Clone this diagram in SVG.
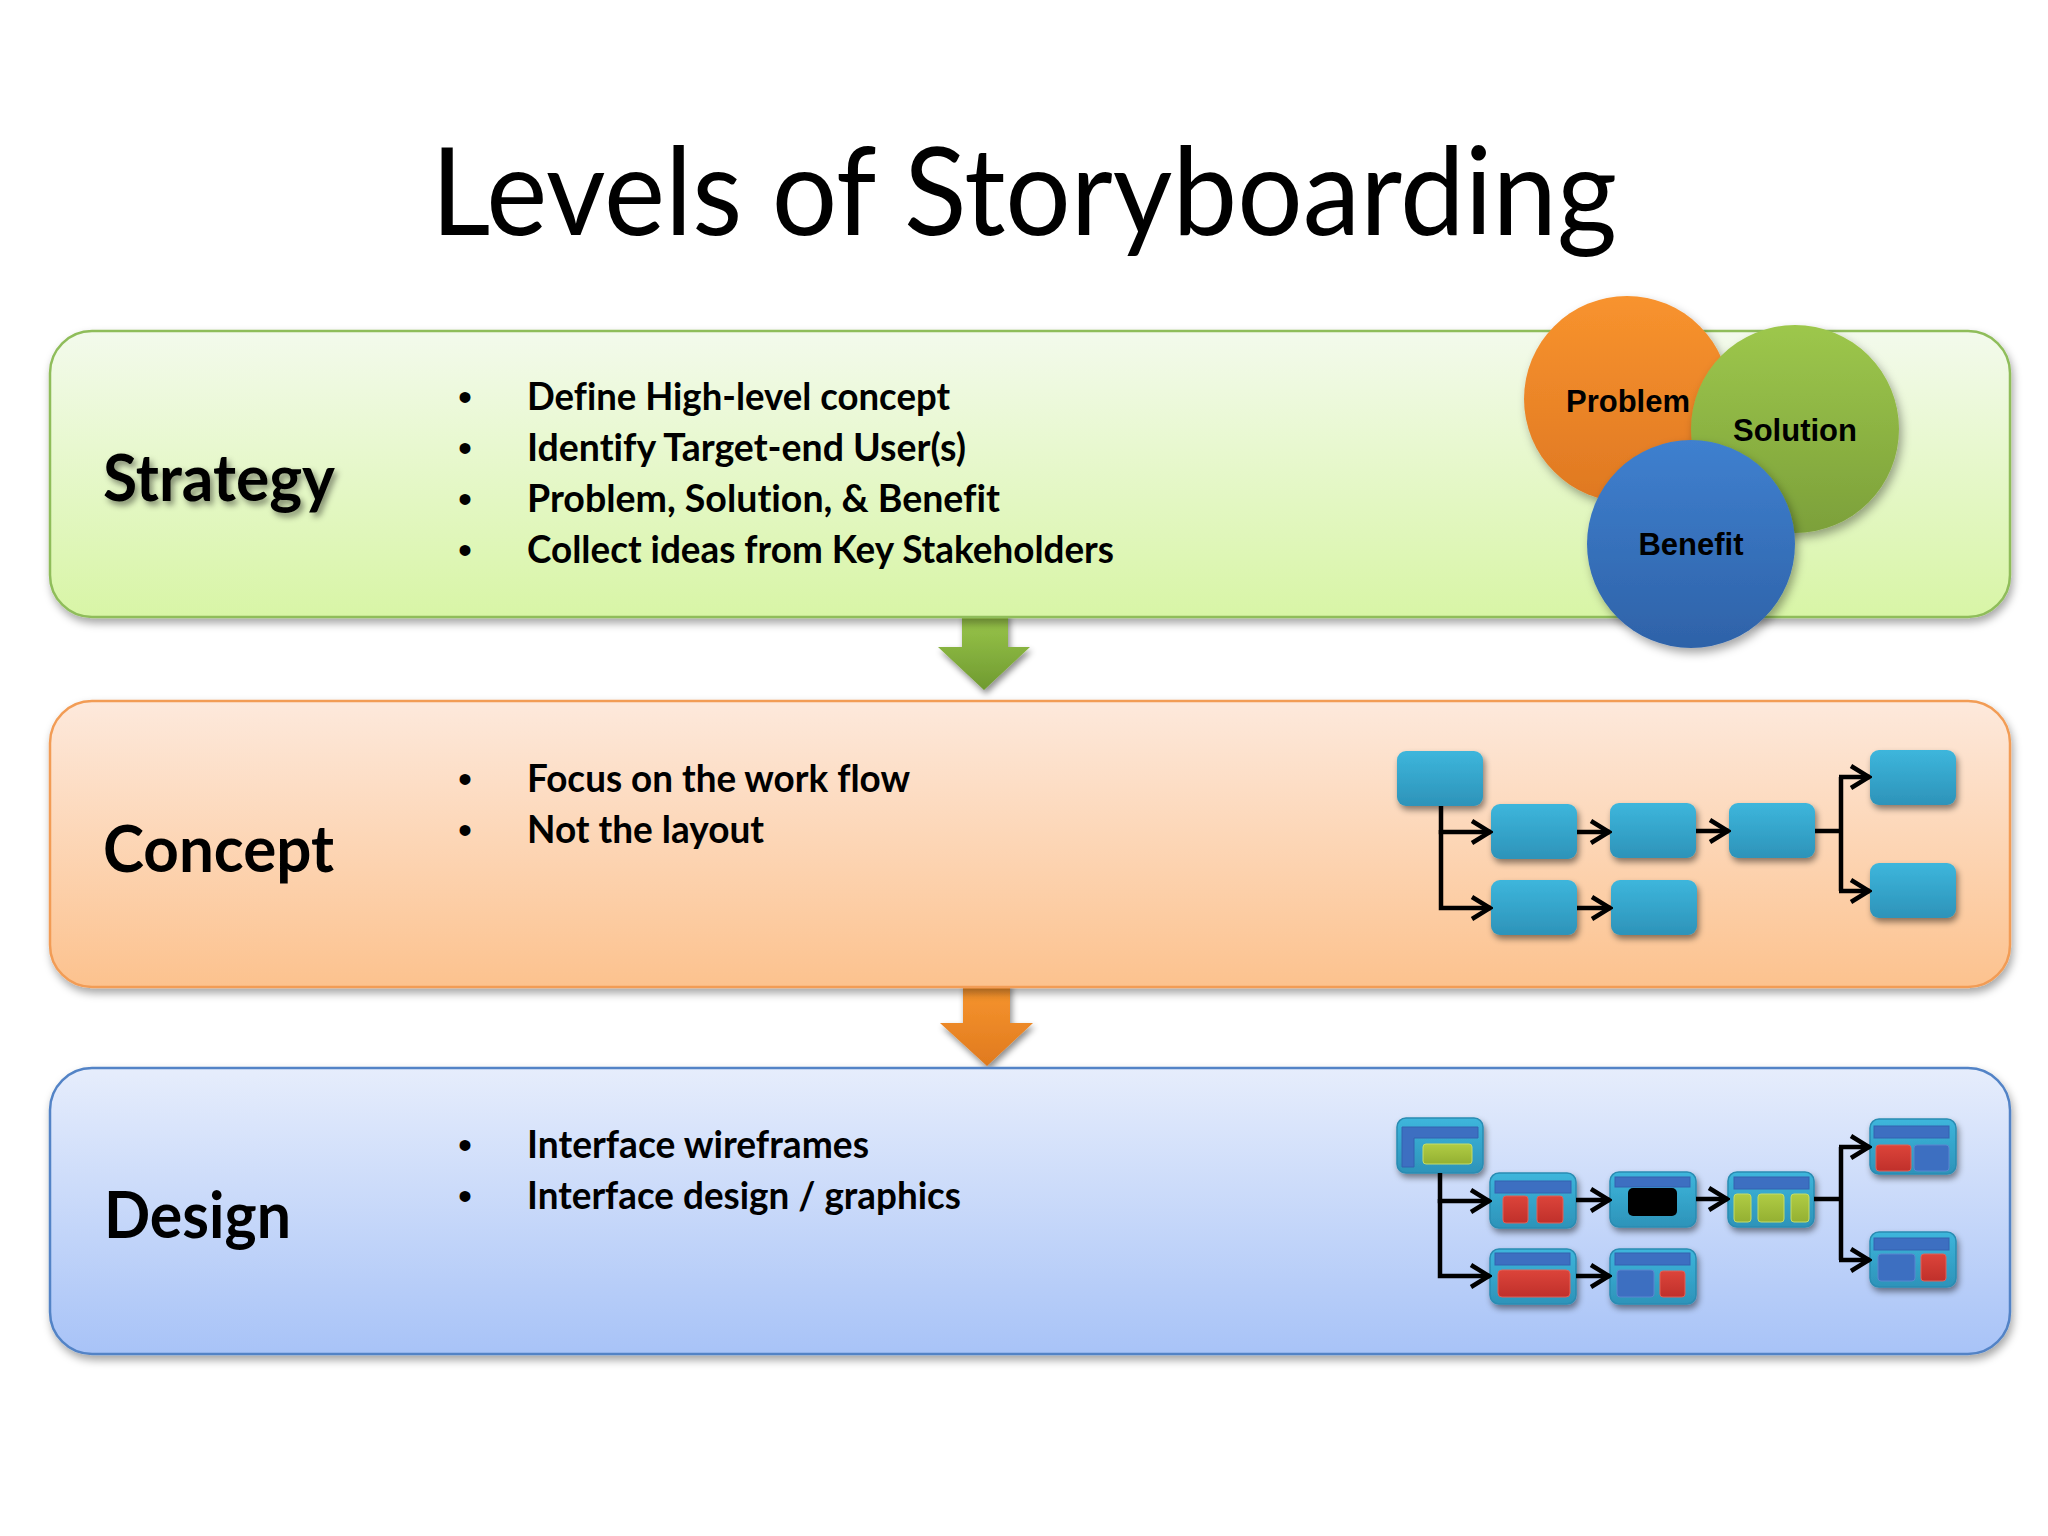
<svg xmlns="http://www.w3.org/2000/svg" width="2048" height="1536" viewBox="0 0 2048 1536">
<defs>
<style>
.title{font-family:Lato,"Open Sans","Liberation Sans",sans-serif;font-size:122px;fill:#000;font-variant-ligatures:none}
.lbl{font-family:Lato,"Open Sans","Liberation Sans",sans-serif;font-weight:bold;font-size:65px;fill:#000;font-variant-ligatures:none}
.bul{font-family:Lato,"Open Sans","Liberation Sans",sans-serif;font-weight:bold;font-size:38px;fill:#000;font-variant-ligatures:none}
.dot{font-family:"Liberation Sans",Arial,sans-serif;font-size:40px;fill:#000}
.ctxt{font-family:"Liberation Sans",Arial,sans-serif;font-weight:bold;font-size:31px;fill:#000;text-anchor:middle}
.conn{fill:none;stroke:#000;stroke-width:4.5;stroke-linejoin:miter}
.cbox{fill:url(#gTeal);filter:url(#fBox)}
.dbox{fill:url(#gTeal);stroke:#2a8cb2;stroke-width:1.5;filter:url(#fBox)}
.hdr{fill:#3d6fc1;stroke:#3562b0;stroke-width:1}
.red{fill:url(#gRed);stroke:#e06058;stroke-width:1}
.grn{fill:url(#gGrn);stroke:#c4dc6a;stroke-width:1}
.blu{fill:#3d6fc1;stroke:#5a86d0;stroke-width:1}
</style>
<linearGradient id="gStrat" x1="0" y1="0" x2="0" y2="1"><stop offset="0" stop-color="#f3faec"/><stop offset="1" stop-color="#d8f5a6"/></linearGradient>
<linearGradient id="gConc" x1="0" y1="0" x2="0" y2="1"><stop offset="0" stop-color="#fde9dc"/><stop offset="1" stop-color="#fcc28e"/></linearGradient>
<linearGradient id="gDes" x1="0" y1="0" x2="0" y2="1"><stop offset="0" stop-color="#e6edfc"/><stop offset="1" stop-color="#a8c3f7"/></linearGradient>
<linearGradient id="gTeal" x1="0" y1="0" x2="0" y2="1"><stop offset="0" stop-color="#3db6dc"/><stop offset="1" stop-color="#2d93b9"/></linearGradient>
<linearGradient id="gRed" x1="0" y1="0" x2="0" y2="1"><stop offset="0" stop-color="#dc443a"/><stop offset="1" stop-color="#c0302b"/></linearGradient>
<linearGradient id="gGrn" x1="0" y1="0" x2="0" y2="1"><stop offset="0" stop-color="#b0cc44"/><stop offset="1" stop-color="#94b032"/></linearGradient>
<linearGradient id="gOrC" x1="0" y1="0" x2="0" y2="1"><stop offset="0" stop-color="#f8932e"/><stop offset="1" stop-color="#df7822"/></linearGradient>
<linearGradient id="gGrC" x1="0" y1="0" x2="0" y2="1"><stop offset="0" stop-color="#9dc74c"/><stop offset="1" stop-color="#7ca03a"/></linearGradient>
<linearGradient id="gBlC" x1="0" y1="0" x2="0" y2="1"><stop offset="0" stop-color="#3f80cf"/><stop offset="1" stop-color="#2e62a8"/></linearGradient>
<linearGradient id="gArG" x1="0" y1="0" x2="0" y2="1"><stop offset="0" stop-color="#9cc84c"/><stop offset="1" stop-color="#6f9a30"/></linearGradient>
<linearGradient id="gArO" x1="0" y1="0" x2="0" y2="1"><stop offset="0" stop-color="#f8962f"/><stop offset="1" stop-color="#e07a1e"/></linearGradient>
<filter id="fBand" x="-5%" y="-10%" width="110%" height="125%"><feDropShadow dx="2" dy="5" stdDeviation="4" flood-color="#000" flood-opacity="0.35"/></filter>
<filter id="fBox" x="-20%" y="-20%" width="150%" height="160%"><feDropShadow dx="2" dy="4" stdDeviation="3" flood-color="#000" flood-opacity="0.45"/></filter>
<filter id="fCirc" x="-20%" y="-20%" width="145%" height="145%"><feDropShadow dx="3" dy="5" stdDeviation="5" flood-color="#000" flood-opacity="0.35"/></filter>
<filter id="fTxt" x="-10%" y="-20%" width="120%" height="150%"><feDropShadow dx="3" dy="4" stdDeviation="3" flood-color="#000" flood-opacity="0.45"/></filter>
<marker id="chev" viewBox="0 0 24 28" refX="22" refY="14" markerWidth="24" markerHeight="28" markerUnits="userSpaceOnUse" orient="auto"><path d="M3,3 L21,14 L3,25" fill="none" stroke="#000" stroke-width="4.5"/></marker>
</defs>
<rect width="2048" height="1536" fill="#ffffff"/>
<text class="title" x="431" y="235" textLength="1186" lengthAdjust="spacingAndGlyphs">Levels of Storyboarding</text>

<g id="arrow-strategy-concept">
<polygon points="962,612 1008,612 1008,647 1030,647 984,690 938,647 962,647" fill="url(#gArG)" filter="url(#fBox)"/>
</g>
<g id="arrow-concept-design">
<polygon points="963,982 1010,982 1010,1023 1033,1023 987,1066 940,1023 963,1023" fill="url(#gArO)" filter="url(#fBox)"/>
</g>

<g id="strategy">
<rect x="50" y="331" width="1960" height="286" rx="42" fill="url(#gStrat)" stroke="#8fbd5a" stroke-width="2.5" filter="url(#fBand)"/>
<text class="lbl" x="103" y="501" textLength="232" lengthAdjust="spacingAndGlyphs" filter="url(#fTxt)">Strategy</text>
<text class="dot" x="458" y="411">•</text>
<text class="dot" x="458" y="462">•</text>
<text class="dot" x="458" y="513">•</text>
<text class="dot" x="458" y="564">•</text>
<text class="bul" x="527" y="410" textLength="423" lengthAdjust="spacingAndGlyphs">Define High-level concept</text>
<text class="bul" x="527" y="461" textLength="439" lengthAdjust="spacingAndGlyphs">Identify Target-end User(s)</text>
<text class="bul" x="527" y="512" textLength="473" lengthAdjust="spacingAndGlyphs">Problem, Solution, &amp; Benefit</text>
<text class="bul" x="527" y="563" textLength="587" lengthAdjust="spacingAndGlyphs">Collect ideas from Key Stakeholders</text>
</g>

<g id="circles">
<g id="circle-problem"><circle cx="1627" cy="399" r="103" fill="url(#gOrC)" filter="url(#fCirc)"/></g>
<g id="circle-solution"><circle cx="1795" cy="429" r="104" fill="url(#gGrC)" filter="url(#fCirc)"/></g>
<g id="circle-benefit"><circle cx="1691" cy="544" r="104" fill="url(#gBlC)" filter="url(#fCirc)"/></g>
<text class="ctxt" x="1628" y="412">Problem</text>
<text class="ctxt" x="1795" y="441">Solution</text>
<text class="ctxt" x="1691" y="555">Benefit</text>
</g>

<g id="concept">
<rect x="50" y="701" width="1960" height="286" rx="42" fill="url(#gConc)" stroke="#f29c55" stroke-width="2.5" filter="url(#fBand)"/>
<text class="lbl" x="103" y="872" textLength="231" lengthAdjust="spacingAndGlyphs">Concept</text>
<text class="dot" x="458" y="793">•</text>
<text class="dot" x="458" y="844">•</text>
<text class="bul" x="527" y="792" textLength="383" lengthAdjust="spacingAndGlyphs">Focus on the work flow</text>
<text class="bul" x="527" y="843" textLength="237" lengthAdjust="spacingAndGlyphs">Not the layout</text>
</g>

<g id="design">
<rect x="50" y="1068" width="1960" height="286" rx="42" fill="url(#gDes)" stroke="#5283c6" stroke-width="2.5" filter="url(#fBand)"/>
<text class="lbl" x="104" y="1238" textLength="187" lengthAdjust="spacingAndGlyphs">Design</text>
<text class="dot" x="458" y="1159">•</text>
<text class="dot" x="458" y="1210">•</text>
<text class="bul" x="527" y="1158" textLength="342" lengthAdjust="spacingAndGlyphs">Interface wireframes</text>
<text class="bul" x="527" y="1209" textLength="434" lengthAdjust="spacingAndGlyphs">Interface design / graphics</text>
</g>

<g id="concept-flow">
<g id="cf-a"><rect class="cbox" x="1397" y="751" width="86" height="55" rx="9"/></g>
<g id="cf-b"><rect class="cbox" x="1491" y="804" width="86" height="55" rx="9"/></g>
<g id="cf-c"><rect class="cbox" x="1610" y="803" width="86" height="55" rx="9"/></g>
<g id="cf-d"><rect class="cbox" x="1729" y="803" width="86" height="55" rx="9"/></g>
<g id="cf-e"><rect class="cbox" x="1491" y="880" width="86" height="55" rx="9"/></g>
<g id="cf-f"><rect class="cbox" x="1611" y="880" width="86" height="55" rx="9"/></g>
<g id="cf-g"><rect class="cbox" x="1870" y="750" width="86" height="55" rx="9"/></g>
<g id="cf-h"><rect class="cbox" x="1870" y="863" width="86" height="55" rx="9"/></g>
</g>

<g id="design-flow">
<g id="df-a"><rect class="dbox" x="1397" y="1118" width="86" height="55" rx="9"/>
<path class="hdr" d="M1402,1127 H1478 V1138 H1414 V1167 H1402 Z"/>
<rect class="grn" x="1423" y="1144" width="49" height="20" rx="3"/></g>
<g id="df-b"><rect class="dbox" x="1490" y="1173" width="86" height="55" rx="9"/>
<rect class="hdr" x="1495" y="1181" width="76" height="12"/>
<rect class="red" x="1503" y="1196" width="25" height="27" rx="3"/>
<rect class="red" x="1537" y="1196" width="26" height="27" rx="3"/></g>
<g id="df-c"><rect class="dbox" x="1610" y="1172" width="86" height="55" rx="9"/>
<rect class="hdr" x="1615" y="1177" width="75" height="10"/>
<rect x="1628" y="1188" width="49" height="28" rx="5" fill="#000"/></g>
<g id="df-d"><rect class="dbox" x="1728" y="1172" width="86" height="55" rx="9"/>
<rect class="hdr" x="1734" y="1177" width="75" height="12"/>
<rect class="grn" x="1734" y="1194" width="17" height="28" rx="3"/>
<rect class="grn" x="1758" y="1194" width="26" height="28" rx="3"/>
<rect class="grn" x="1791" y="1194" width="18" height="28" rx="3"/></g>
<g id="df-e"><rect class="dbox" x="1490" y="1249" width="86" height="55" rx="9"/>
<rect class="hdr" x="1495" y="1253" width="75" height="12"/>
<rect class="red" x="1498" y="1270" width="72" height="27" rx="4"/></g>
<g id="df-f"><rect class="dbox" x="1610" y="1249" width="86" height="55" rx="9"/>
<rect class="hdr" x="1615" y="1253" width="75" height="12"/>
<rect class="blu" x="1617" y="1270" width="37" height="27" rx="3"/>
<rect class="red" x="1660" y="1271" width="25" height="26" rx="3"/></g>
<g id="df-g"><rect class="dbox" x="1870" y="1119" width="86" height="55" rx="9"/>
<rect class="hdr" x="1874" y="1126" width="75" height="12"/>
<rect class="red" x="1876" y="1145" width="35" height="26" rx="3"/>
<rect class="blu" x="1914" y="1145" width="35" height="26" rx="3"/></g>
<g id="df-h"><rect class="dbox" x="1870" y="1232" width="86" height="55" rx="9"/>
<rect class="hdr" x="1874" y="1238" width="75" height="12"/>
<rect class="blu" x="1878" y="1254" width="37" height="27" rx="3"/>
<rect class="red" x="1921" y="1254" width="25" height="27" rx="3"/></g>
</g>

<g id="connectors">
<path class="conn" d="M1441,806 V832 H1491" marker-end="url(#chev)"/>
<path class="conn" d="M1441,830 V908 H1491" marker-end="url(#chev)"/>
<path class="conn" d="M1577,832 H1610" marker-end="url(#chev)"/>
<path class="conn" d="M1696,831 H1729" marker-end="url(#chev)"/>
<path class="conn" d="M1577,908 H1611" marker-end="url(#chev)"/>
<path class="conn" d="M1815,831 H1843"/>
<path class="conn" d="M1841,777 V891"/>
<path class="conn" d="M1839,777 H1870" marker-end="url(#chev)"/>
<path class="conn" d="M1839,891 H1870" marker-end="url(#chev)"/>
<path class="conn" d="M1440,1173 V1201 H1490" marker-end="url(#chev)"/>
<path class="conn" d="M1440,1199 V1276 H1490" marker-end="url(#chev)"/>
<path class="conn" d="M1576,1200 H1610" marker-end="url(#chev)"/>
<path class="conn" d="M1696,1199 H1728" marker-end="url(#chev)"/>
<path class="conn" d="M1576,1276 H1610" marker-end="url(#chev)"/>
<path class="conn" d="M1814,1199 H1843"/>
<path class="conn" d="M1841,1147 V1260"/>
<path class="conn" d="M1839,1147 H1870" marker-end="url(#chev)"/>
<path class="conn" d="M1839,1260 H1870" marker-end="url(#chev)"/>
</g>
</svg>
